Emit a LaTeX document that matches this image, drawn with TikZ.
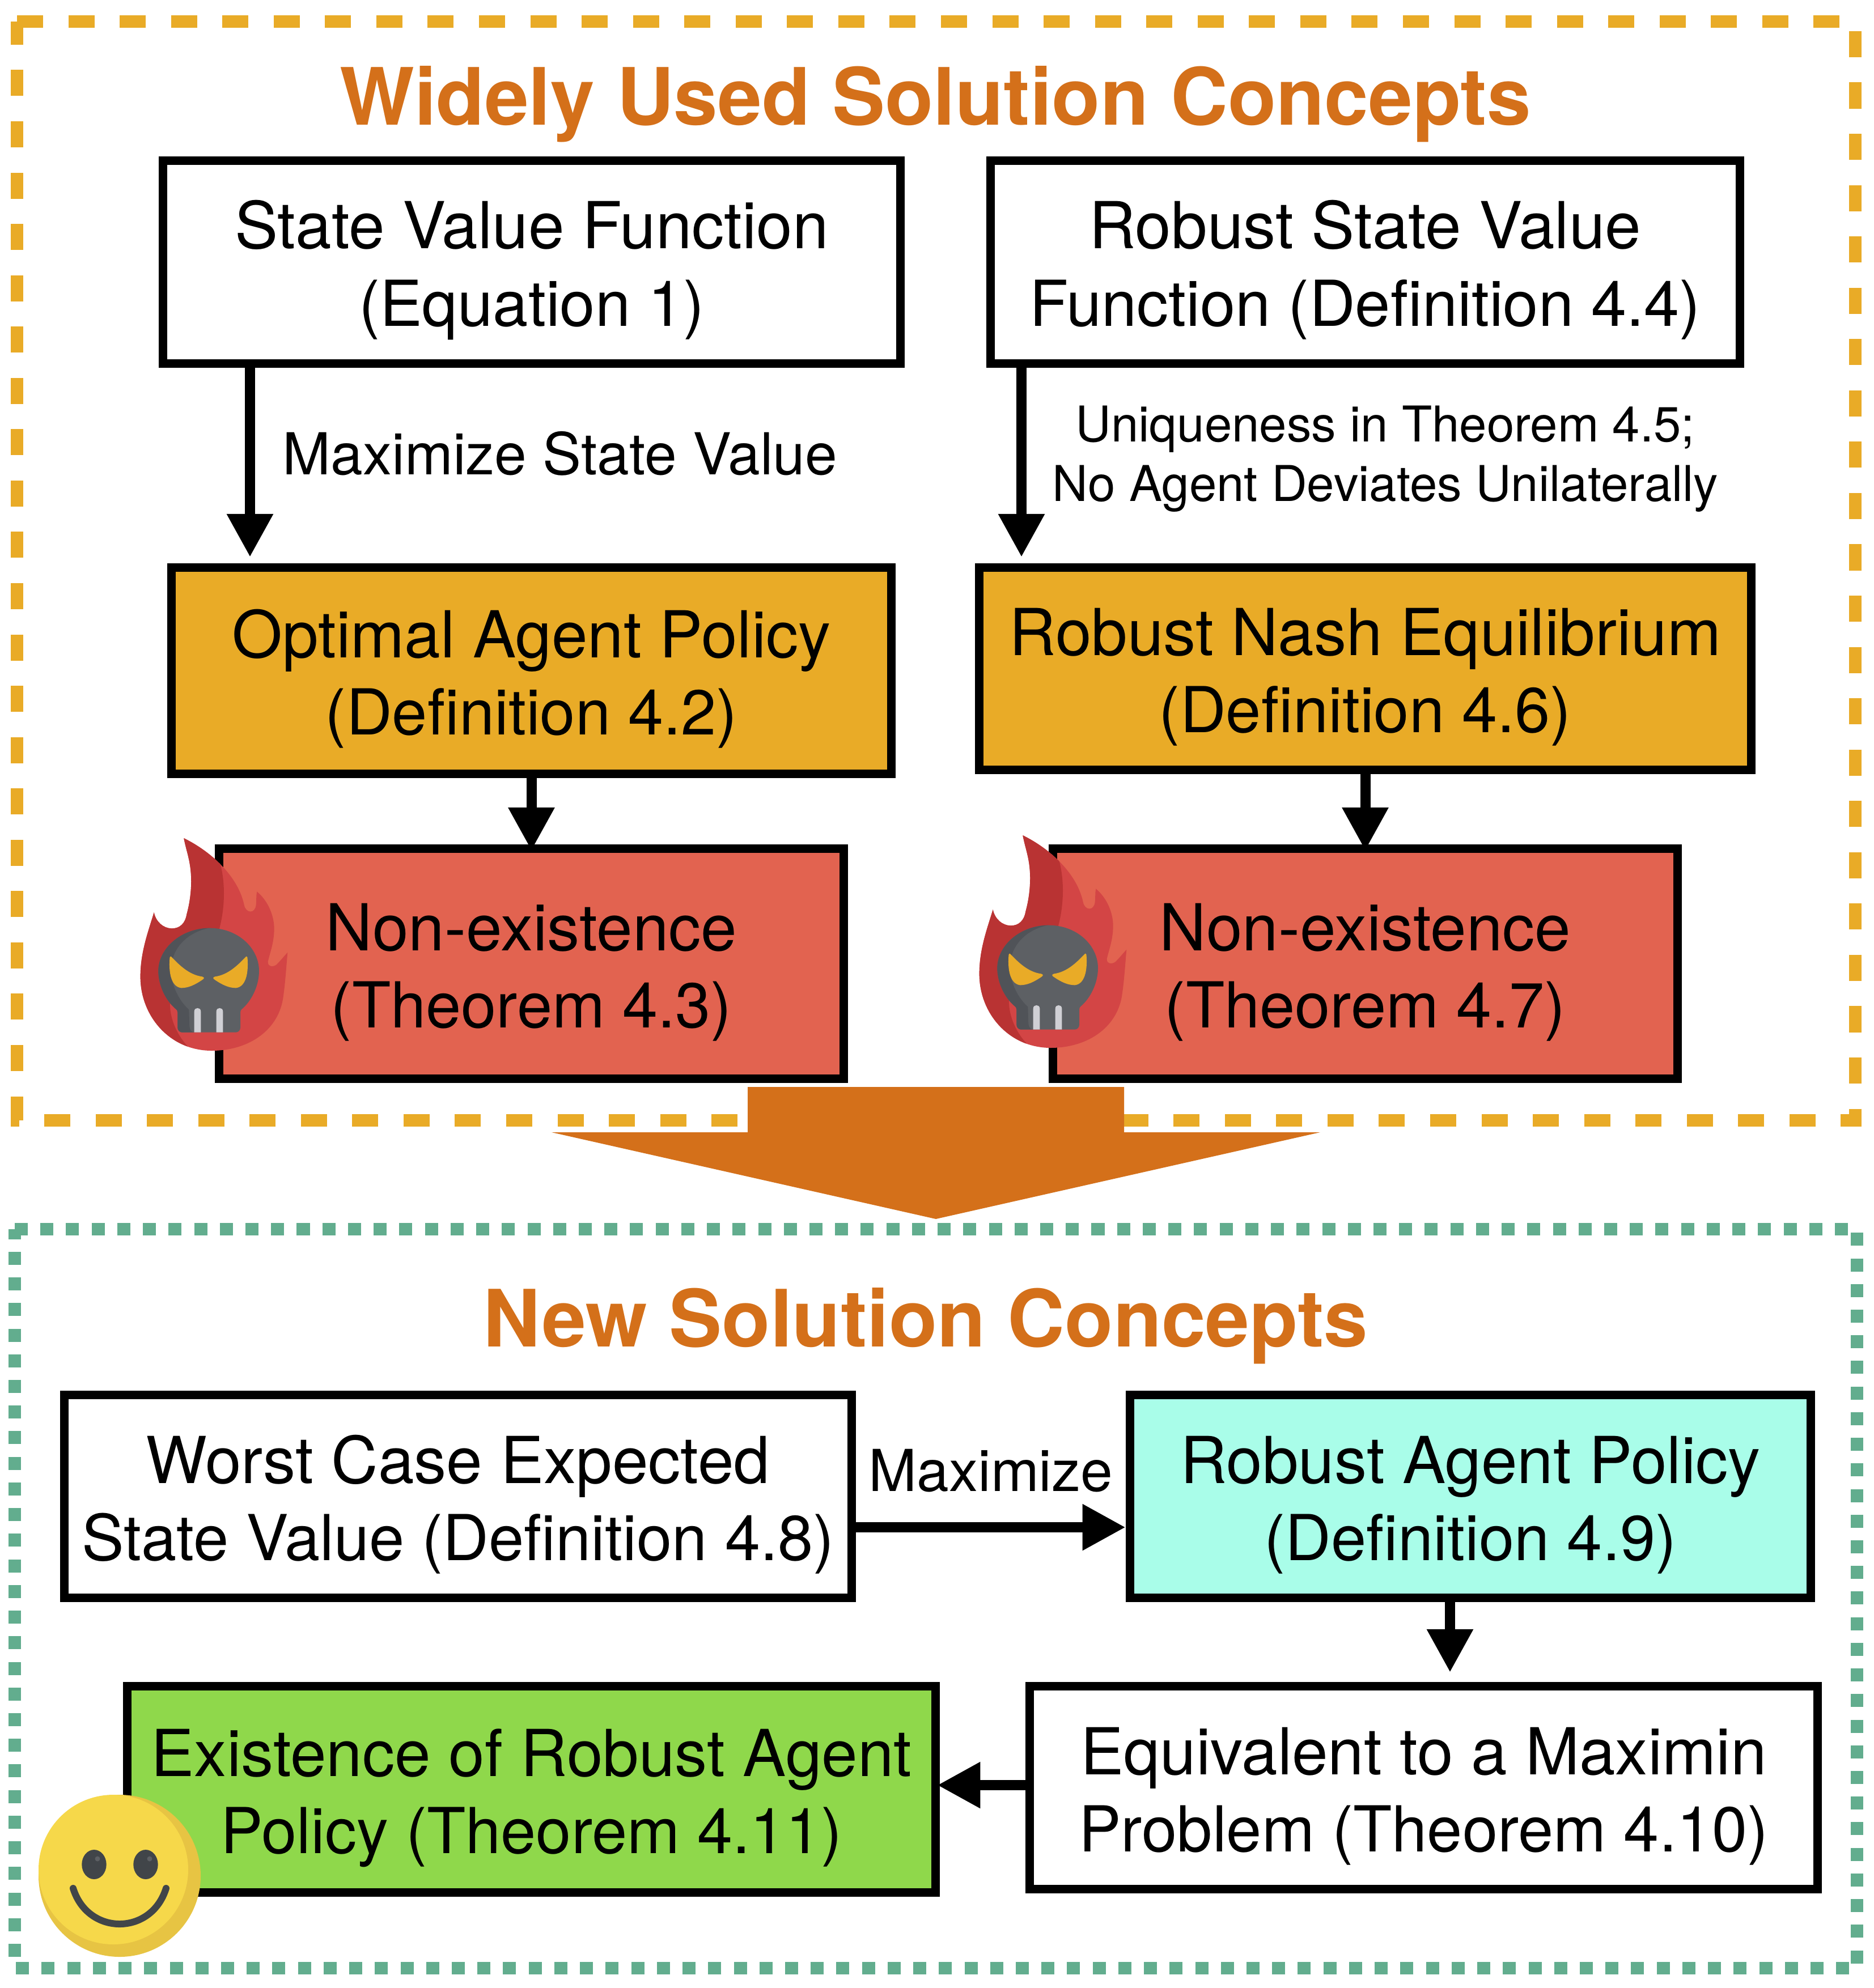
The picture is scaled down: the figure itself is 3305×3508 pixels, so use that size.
\documentclass[tikz,border=0pt]{standalone}
\usepackage{fontspec}
\setmainfont{TeX Gyre Heros}
\usetikzlibrary{arrows.meta}
\definecolor{goldfill}{HTML}{E9AB27}
\definecolor{redfill}{HTML}{E26350}
\definecolor{cyanfill}{HTML}{A9FDE9}
\definecolor{greenfill}{HTML}{8FD84B}
\definecolor{orangetone}{HTML}{D4701A}
\definecolor{greenframe}{HTML}{62AD8E}
\definecolor{flamedark}{HTML}{B93333}
\definecolor{flamelight}{HTML}{D34545}
\definecolor{skullmain}{HTML}{5D6064}
\definecolor{skullshade}{HTML}{505358}
\definecolor{toothtone}{HTML}{D0D0D5}
\definecolor{smilelight}{HTML}{F6D84A}
\definecolor{smileshade}{HTML}{E7C443}
\definecolor{smiledark}{HTML}{414549}
\newcommand{\boxfont}{\fontsize{32.5}{38.7}\selectfont}
\newcommand{\lowerfont}{\fontsize{31.8}{38.7}\selectfont}
\newcommand{\labelfont}{\fontsize{29}{34.8}\selectfont}
\newcommand{\smallfont}{\fontsize{24.75}{29.9}\selectfont}
\newcommand{\titlefont}{\fontsize{39.7}{48}\selectfont\bfseries}
\newcommand{\twolines}[2]{\rule{0pt}{1.19cm}#1\\\lowerfont #2\rule[-0.30cm]{0pt}{0.30cm}}
\tikzset{
  conceptbox/.style={draw,line width=0.15cm,inner sep=0pt,align=center,font=\boxfont},
  flowarrow/.style={line width=0.18cm,-{Triangle[length=0.76cm,width=0.77cm]}},
  titletext/.style={anchor=base,inner sep=0pt,text=orangetone,font=\titlefont},
  steplabel/.style={anchor=base,inner sep=0pt,font=\labelfont},
  flamepic/.pic={
    \begin{scope}[scale=1/3]
      \begin{scope}
        \path[clip] (375,118) .. controls (520,190) and (660,320) .. (692,470) .. controls (700,515) and (750,520) .. (755,470) .. controls (758,445) and (755,420) .. (760,400) .. controls (820,450) and (852,530) .. (851,600) .. controls (850,670) and (830,720) .. (818,770) .. controls (815,800) and (850,800) .. (865,785) .. controls (885,765) and (905,740) .. (922,722) .. controls (915,800) and (910,880) .. (900,950) .. controls (880,1130) and (720,1242) .. (520,1242) .. controls (300,1242) and (143,1060) .. (143,850) .. controls (143,720) and (185,610) .. (215,510) .. controls (225,560) and (265,595) .. (310,595) .. controls (350,595) and (380,570) .. (388,520) .. controls (410,440) and (415,360) .. (410,300) .. controls (405,230) and (385,180) .. (373,118) -- cycle;
        \fill[flamelight] (100,100) rectangle (1000,1300);
        \fill[flamedark] (100,100) -- (565,100) -- (565,250) .. controls (590,340) and (595,470) .. (560,600) -- (300,980) .. controls (295,1060) and (330,1150) .. (392,1218) -- (392,1300) -- (100,1300) -- cycle;
      \end{scope}
      \begin{scope}
        \path[clip] (510,593) .. controls (660,593) and (771,700) .. (771,820) .. controls (771,900) and (730,980) .. (680,1022) .. controls (675,1026) and (672,1030) .. (672,1040) -- (672,1120) .. controls (672,1135) and (660,1145) .. (648,1145) -- (364,1145) .. controls (352,1145) and (340,1135) .. (340,1120) -- (340,1040) .. controls (340,1030) and (336,1026) .. (331,1022) .. controls (280,980) and (238,900) .. (238,820) .. controls (238,700) and (360,593) .. (510,593) -- cycle;
        \fill[skullmain] (200,500) rectangle (800,1200);
        \fill[skullshade] (520,590) .. controls (400,610) and (310,690) .. (305,810) .. controls (305,900) and (350,980) .. (400,1025) -- (403,1115) .. controls (405,1135) and (415,1145) .. (430,1145) -- (430,1200) -- (200,1200) -- (200,590) -- cycle;
      \end{scope}
      \foreach \toothx in {0,117}
        \fill[toothtone,xshift=\toothx*0.01cm] (428,1145) -- (428,1035) .. controls (428,1010) and (463,1010) .. (463,1035) -- (463,1145) -- cycle;
      \fill[goldfill] (305,743) .. controls (350,790) and (400,840) .. (470,850) .. controls (482,853) and (482,860) .. (472,866) .. controls (430,895) and (395,910) .. (360,910) .. controls (310,905) and (292,840) .. (298,755) .. controls (298,745) and (302,742) .. (305,743) -- cycle;
      \fill[goldfill] (703,743) .. controls (658,790) and (608,840) .. (538,850) .. controls (526,853) and (526,860) .. (536,866) .. controls (578,895) and (613,910) .. (648,910) .. controls (698,905) and (716,840) .. (710,755) .. controls (710,745) and (706,742) .. (703,743) -- cycle;
    \end{scope}
  }
}
\begin{document}
\begin{tikzpicture}[x=0.01cm,y=-0.01cm]
  \useasboundingbox (0,0) rectangle (3305,3508);
  % dashed frames
  \draw[goldfill,line width=0.225cm,dash pattern=on 0.46cm off 0.445cm] (30,38) -- (3273,38) -- (3273,1977) -- (30,1977) -- cycle;
  \draw[greenframe,line width=0.225cm,dash pattern=on 0.23cm off 0.222cm] (26,2169) -- (3276,2169) -- (3276,3473) -- (26,3473) -- cycle;
  % upper part
  \node[titletext] (widelytitle) at (1650,220) {Widely Used Solution Concepts};
  \node[conceptbox,minimum width=13.01cm,minimum height=3.58cm] (statefn) at (938,462.5) {\twolines{State Value Function}{(Equation 1)}};
  \node[conceptbox,minimum width=13.22cm,minimum height=3.58cm] (robustfn) at (2408.5,462.5) {\twolines{Robust State Value}{Function (Definition 4.4)}};
  \node[conceptbox,fill=goldfill,minimum width=12.70cm,minimum height=3.64cm] (optimal) at (937.5,1183.5) {\twolines{Optimal Agent Policy}{(Definition 4.2)}};
  \node[conceptbox,fill=goldfill,minimum width=13.62cm,minimum height=3.57cm] (nash) at (2408.5,1180) {\twolines{Robust Nash Equilibrium}{(Definition 4.6)}};
  \node[steplabel] (maxvalue) at (988,837) {Maximize State Value};
  \node[inner sep=0pt,align=center,font=\smallfont] (uniqueness) at (2444,810) {Uniqueness in Theorem 4.5;\\No Agent Deviates Unilaterally};
  \coordinate (tipstate) at (441,983);
  \coordinate (tiprobust) at (1802,983);
  \coordinate (tipleft) at (937.5,1501);
  \coordinate (tipright) at (2408.5,1501);
  \draw[flowarrow] (statefn.south -| tipstate) -- (tipstate);
  \draw[flowarrow] (robustfn.south -| tiprobust) -- (tiprobust);
  \draw[flowarrow] (optimal.south) -- (tipleft);
  \draw[flowarrow] (nash.south) -- (tipright);
  \node[conceptbox,fill=redfill,minimum width=11.02cm,minimum height=4.06cm] (nonleft) at (937.5,1700.5) {\twolines{Non-existence}{(Theorem 4.3)}};
  \node[conceptbox,fill=redfill,minimum width=11.02cm,minimum height=4.06cm] (nonright) at (2408.5,1700.5) {\twolines{Non-existence}{(Theorem 4.7)}};
  \pic at (200,1440) {flamepic};
  \pic at (1680,1435) {flamepic};
  % block arrow between the frames
  \fill[orangetone] (1319,1918) -- (1983,1918) -- (1983,1998) -- (2329,1998) -- (1651,2151) -- (973,1998) -- (1319,1998) -- cycle;
  % lower part
  \node[titletext] (newtitle) at (1633,2376.7) {New Solution Concepts};
  \node[conceptbox,minimum width=13.89cm,minimum height=3.58cm] (worst) at (808,2640.5) {\twolines{Worst Case Expected}{State Value (Definition 4.8)}};
  \node[conceptbox,fill=cyanfill,minimum width=12.01cm,minimum height=3.58cm] (robustagent) at (2594,2640.5) {\twolines{Robust Agent Policy}{(Definition 4.9)}};
  \node[conceptbox,fill=greenfill,minimum width=14.26cm,minimum height=3.64cm] (existence) at (937.5,3157.5) {\twolines{Existence of Robust Agent}{Policy (Theorem 4.11)}};
  \node[conceptbox,minimum width=13.90cm,minimum height=3.58cm] (equivalent) at (2511.5,3154.5) {\twolines{Equivalent to a Maximin}{Problem (Theorem 4.10)}};
  \node[steplabel] (maxlabel) at (1748,2631.5) {Maximize};
  \coordinate (maxrow) at (1750,2695);
  \coordinate (existrow) at (1730,3150);
  \coordinate (tipdown) at (2558,2951);
  \draw[flowarrow] (worst.east |- maxrow) -- (robustagent.west |- maxrow);
  \draw[flowarrow] (robustagent.south -| tipdown) -- (tipdown);
  \draw[flowarrow,shorten >=-0.05cm] (equivalent.west |- existrow) -- (existence.east |- existrow);
  % smiley
  \fill[smileshade] (211,3310) circle[radius=143];
  \fill[smilelight] (200,3299) circle[radius=132];
  \fill[smiledark] (166,3290) ellipse[x radius=21.7,y radius=26];
  \fill[smiledark] (257,3290) ellipse[x radius=21.7,y radius=26];
  \fill[skullmain] (172,3280) circle[radius=4.5];
  \fill[skullmain] (264,3280) circle[radius=4.5];
  \draw[smiledark,line width=0.12cm,line cap=round] (129,3332) .. controls (155,3416) and (267,3416) .. (293,3332);
\end{tikzpicture}
\end{document}
